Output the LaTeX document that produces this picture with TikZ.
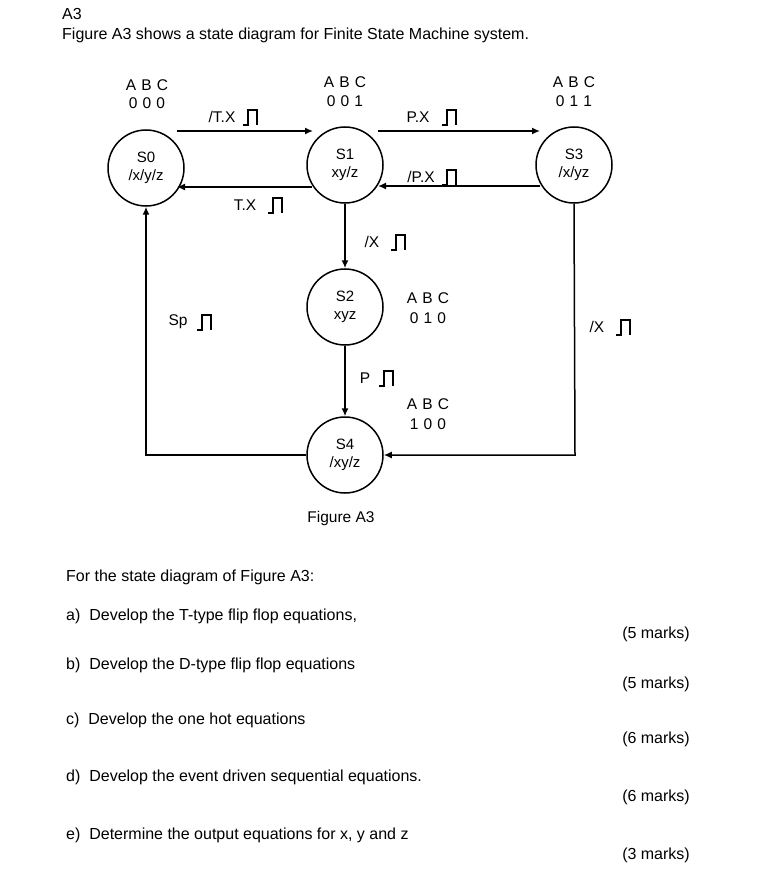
\documentclass[tikz,border=0pt]{standalone}
\usepackage{fontspec}
\setmainfont{Liberation Sans}
\usetikzlibrary{arrows.meta}
\begin{document}
\begin{tikzpicture}[x=1pt,y=-1pt,
  st/.style={circle,draw,line width=1.5pt,minimum size=76pt,inner sep=0pt,align=center,font=\fontsize{15}{18}\selectfont},
  lb/.style={font=\fontsize{15.5}{18}\selectfont,inner sep=0pt},
  tx/.style={font=\fontsize{16}{18}\selectfont,inner sep=0pt,anchor=west},
  mk/.style={font=\fontsize{16}{18}\selectfont,inner sep=0pt,anchor=east},
  ar/.style={line width=1.5pt,-{Latex[length=8pt,width=7pt]}},
  pulse/.pic={\draw[line width=1.4pt] (-2,0)--(3,0)--(3,-15)--(12,-15)--(12,0);}]
\useasboundingbox (0,0) rectangle (772,877);
\node[tx] (t1) at (62,14) {A3};
\node[tx] (t2) at (62,35) {Figure A3 shows a state diagram for Finite State Machine system.};
\node[st] (s0) at (146,168) {S0\\/x/y/z};
\node[st] (s1) at (345,165) {S1\\xy/z};
\node[st] (s3) at (574,165) {S3\\/x/yz};
\node[st] (s2) at (345,307) {S2\\xyz};
\node[st] (s4) at (345,455) {S4\\/xy/z};
\node[lb] (c0a) at (147,85) {A\,\,B\,\,C}; \node[lb] (c0b) at (147,103) {0\,\,0\,\,0};
\node[lb] (c1a) at (345,82) {A\,\,B\,\,C}; \node[lb] (c1b) at (345,101) {0\,\,0\,\,1};
\node[lb] (c3a) at (574,82) {A\,\,B\,\,C}; \node[lb] (c3b) at (574,101) {0\,\,1\,\,1};
\node[lb] (c2a) at (428,298) {A\,\,B\,\,C}; \node[lb] (c2b) at (428,318) {0\,\,1\,\,0};
\node[lb] (c4a) at (428,404) {A\,\,B\,\,C}; \node[lb] (c4b) at (428,424) {1\,\,0\,\,0};
\coordinate (p1) at (177,131); \coordinate (p2) at (313,131);
\coordinate (p3) at (312,187); \coordinate (p4) at (177,187);
\coordinate (p5) at (378,131); \coordinate (p6) at (540,131);
\coordinate (p7) at (540,186); \coordinate (p8) at (378,186);
\draw[ar] (p1) -- (p2);
\draw[ar] (p3) -- (p4);
\draw[ar] (p5) -- (p6);
\draw[ar] (p7) -- (p8);
\draw[ar] (s1.south) -- (s2.north);
\draw[ar] (s2.south) -- (s4.north);
\coordinate (k0) at (146,455);
\draw[ar] (s4.west) -- (k0) -- (s0.south);
\coordinate (k3) at (575,455);
\draw[ar] (s3.south) -- (k3) -- (s4.east);
\node[lb] (l1) at (222,117) {/T.X}; \pic at (245,125) {pulse};
\node[lb] (l2) at (418,117) {P.X}; \pic at (444,125) {pulse};
\node[lb] (l3) at (245,205) {T.X}; \pic at (270,213) {pulse};
\node[lb] (l4) at (421,177) {/P.X}; \pic at (444,185) {pulse};
\node[lb] (l5) at (372,242) {/X}; \pic at (393,250) {pulse};
\node[lb] (l6) at (178,322) {Sp}; \pic at (199,330) {pulse};
\node[lb] (l7) at (365,378) {P}; \pic at (381,386) {pulse};
\node[lb] (l8) at (597,327) {/X}; \pic at (618,335) {pulse};
\node[lb] (fg) at (341,518) {Figure A3};
\node[tx] (q0) at (66,577) {For the state diagram of Figure A3:};
\node[tx] (qa) at (66,616) {a)\ \ Develop the T-type flip flop equations,};
\node[tx] (qb) at (66,665) {b)\ \ Develop the D-type flip flop equations};
\node[tx] (qc) at (66,720) {c)\ \ Develop the one hot equations};
\node[tx] (qd) at (66,777) {d)\ \ Develop the event driven sequential equations.};
\node[tx] (qe) at (66,835) {e)\ \ Determine the output equations for x, y and z};
\node[mk] (ma) at (690,634) {(5 marks)};
\node[mk] (mb) at (690,684) {(5 marks)};
\node[mk] (mc) at (690,739) {(6 marks)};
\node[mk] (md) at (690,797) {(6 marks)};
\node[mk] (me) at (690,855) {(3 marks)};
\end{tikzpicture}
\end{document}
